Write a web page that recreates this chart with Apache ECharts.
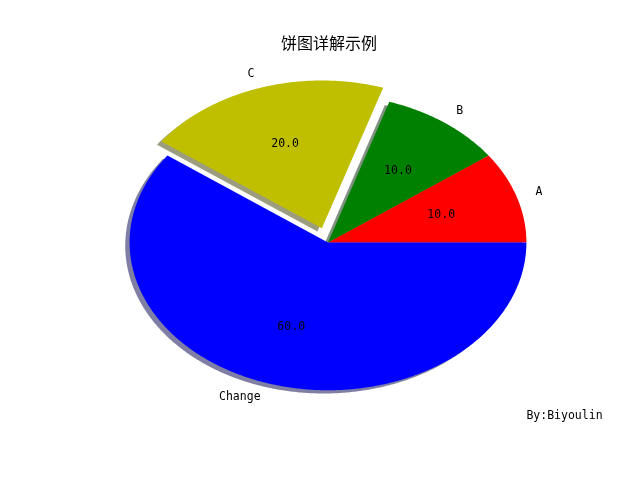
<!DOCTYPE html>
<html>
<head>
<meta charset="utf-8">
<script src="https://cdn.jsdelivr.net/npm/echarts@6/dist/echarts.min.js"></script>
<style>html,body{margin:0;padding:0;background:#fff}#c{width:640px;height:480px}</style>
</head>
<body>
<div id="c"></div>
<script>
var categories = ['A', 'B', 'C', 'Change'];
var values = [10, 10, 20, 60];
var explode = [0, 0, 0.1, 0];
var colors = ['#ff0000', '#008000', '#bfbf00', '#0000ff'];
var shadowColors = ['rgba(76,0,0,0.5)', 'rgba(0,38,0,0.5)', 'rgba(57,57,0,0.5)', 'rgba(0,0,76,0.5)'];
var titleText = '饼图详解示例';
var noteText = 'By:Biyoulin';
var notePos = [1, -1.2];

var total = values.reduce(function (a, b) { return a + b; }, 0);
var starts = [];
var acc = 0;
for (var k = 0; k < values.length; k++) { starts.push(acc / total * 360); acc += values[k]; }

function geom(i) {
  var a0 = starts[i];
  var a1 = a0 + values[i] / total * 360;
  var mid = (a0 + a1) / 2 * Math.PI / 180;
  return { a0: a0, a1: a1, mid: mid, cx: explode[i] * Math.cos(mid), cy: explode[i] * Math.sin(mid) };
}

function wedgeItem(shadow) {
  return function (params, api) {
    var i = api.value(0);
    var g = geom(i);
    var dx = shadow ? -0.022 : 0, dy = shadow ? -0.022 : 0;
    var pts = [api.coord([g.cx + dx, g.cy + dy])];
    var n = Math.max(2, Math.ceil((g.a1 - g.a0) * 2));
    for (var s = 0; s <= n; s++) {
      var t = (g.a0 + (g.a1 - g.a0) * s / n) * Math.PI / 180;
      pts.push(api.coord([g.cx + dx + Math.cos(t), g.cy + dy + Math.sin(t)]));
    }
    return { type: 'polygon', shape: { points: pts }, style: { fill: shadow ? shadowColors[i] : colors[i], stroke: null } };
  };
}

var font = '11.5px "DejaVu Sans Mono", monospace';

function labelItem(params, api) {
  var i = api.value(0);
  var g = geom(i);
  var lx = g.cx + 1.1 * Math.cos(g.mid), ly = g.cy + 1.1 * Math.sin(g.mid);
  var px = g.cx + 0.6 * Math.cos(g.mid), py = g.cy + 0.6 * Math.sin(g.mid);
  var lp = api.coord([lx, ly]);
  var pp = api.coord([px, py]);
  var pct = (values[i] / total * 100).toFixed(1);
  return {
    type: 'group',
    children: [
      { type: 'text', x: lp[0], y: lp[1], style: { text: categories[i], font: font, fill: '#000', align: lx > 0 ? 'left' : 'right', verticalAlign: 'middle' } },
      { type: 'text', x: pp[0], y: pp[1], style: { text: pct, font: font, fill: '#000', align: 'center', verticalAlign: 'middle' } }
    ]
  };
}

function noteItem(params, api) {
  var p = api.coord([api.value(0), api.value(1)]);
  return { type: 'text', x: p[0], y: p[1] + 2, style: { text: noteText, font: font, fill: '#000', align: 'left', verticalAlign: 'bottom' } };
}

var idx = categories.map(function (c, i) { return [i]; });

var chart = echarts.init(document.getElementById('c'), null, { renderer: 'canvas' });
chart.setOption({
  animation: false,
  backgroundColor: '#fff',
  title: { text: titleText, left: 324, top: 30, textAlign: 'center', textStyle: { fontFamily: 'Noto Sans CJK SC', fontSize: 16, fontWeight: 'normal', color: '#000' } },
  grid: { left: 80, right: 64, top: 57.6, bottom: 52.8 },
  xAxis: { type: 'value', min: -1.25, max: 1.25, show: false },
  yAxis: { type: 'value', min: -1.25, max: 1.25, show: false },
  series: [
    { type: 'custom', z: 1, renderItem: wedgeItem(true), data: idx, silent: true },
    { type: 'custom', z: 2, renderItem: wedgeItem(false), data: idx, silent: true },
    { type: 'custom', z: 3, renderItem: labelItem, data: idx, silent: true },
    { type: 'custom', z: 3, renderItem: noteItem, data: [notePos], silent: true }
  ]
});
</script>
</body>
</html>
